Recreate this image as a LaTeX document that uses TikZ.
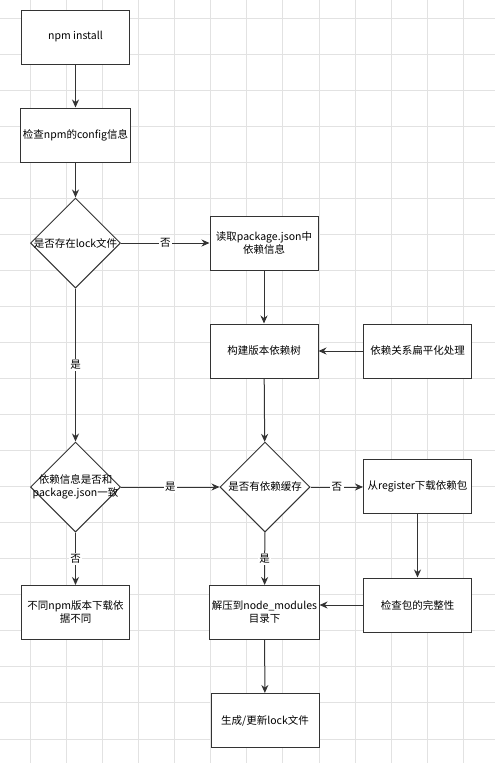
\documentclass[tikz,border=0pt]{standalone}
\usepackage{fontspec}
\setmainfont{Noto Sans CJK SC}
\usetikzlibrary{shapes.geometric,arrows.meta}
\definecolor{gridgray}{HTML}{E2E2E2}
\definecolor{linegray}{HTML}{333333}
\begin{document}
\begin{tikzpicture}[x=1pt, y=-1pt,
    every node/.style={font=\fontsize{10.5}{13}\selectfont},
    box/.style={draw=linegray, fill=white, line width=1pt, minimum width=108pt, minimum height=54pt, inner sep=2pt, align=center},
    dia/.style={draw=linegray, fill=white, line width=1pt, diamond, minimum width=90pt, minimum height=90pt, inner sep=0pt},
    flow/.style={draw=linegray, line width=1pt, -{Stealth[length=8pt,width=7pt]}},
    tag/.style={fill=white, inner sep=1.5pt}]
\useasboundingbox (0,0) rectangle (495,763);
\fill[white] (0,0) rectangle (495,763);
% grid
\foreach \i in {0,...,12}
    \draw[gridgray, line width=0.8pt] ({30.5+36.05*\i},0) -- ++(0,763);
\foreach \j in {0,...,20}
    \draw[gridgray, line width=0.8pt] (0,{18.3+36.03*\j}) -- ++(495,0);
% nodes
\node[box] (install) at (75.5,37) {npm install};
\node[box] (config) at (75.5,135) {检查npm的config信息};
\node[dia, label={[align=center]center:是否存在lock文件}] (haslock) at (75.5,243) {};
\node[box] (readpkg) at (264,243) {读取package.json中\\依赖信息};
\node[box] (buildtree) at (264,351) {构建版本依赖树};
\node[box] (flatten) at (417.5,351) {依赖关系扁平化处理};
\node[dia, label={[align=center]center:依赖信息是否和\\package.json一致}] (same) at (75.5,487) {};
\node[dia, label={[align=center]center:是否有依赖缓存}] (cache) at (265,487) {};
\node[box] (fetch) at (417.5,486) {从register下载依赖包};
\node[box] (diff) at (75.5,612.5) {不同npm版本下载依\\据不同};
\node[box] (check) at (417.5,605) {检查包的完整性};
\node[box] (unzip) at (264.5,612.5) {解压到node\_modules\\目录下};
\node[box] (genlock) at (265,720.5) {生成/更新lock文件};
% connectors
\draw[flow] (install) -- (config);
\draw[flow] (config) -- (haslock);
\draw[flow] (haslock) -- node[tag] {否} (readpkg);
\draw[flow] (haslock) -- node[tag] {是} (same);
\draw[flow] (readpkg) -- (buildtree);
\draw[flow] (flatten) -- (buildtree);
\draw[flow] (buildtree) -- (cache);
\draw[flow] (same) -- node[tag] {是} (cache);
\draw[flow] (same) -- node[tag] {否} (diff);
\draw[flow] (cache.east) -- node[tag] {否} (cache.east -| fetch.west);
\draw[flow] (cache) -- node[tag] {是} (unzip);
\draw[flow] (fetch) -- (check);
\draw[flow] (check.west) -- (check.west -| unzip.east);
\draw[flow] (unzip) -- (genlock);
\end{tikzpicture}
\end{document}
